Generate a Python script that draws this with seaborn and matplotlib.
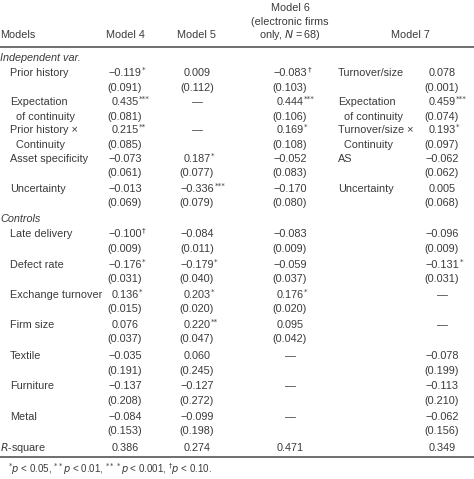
import matplotlib
matplotlib.use("Agg")
import matplotlib.pyplot as plt
import seaborn as sns

sns.set_theme(style="white")
plt.rcParams['font.family'] = ['Liberation Sans', 'DejaVu Sans']

indep_labels = [["Prior history"], ["Expectation", "  of continuity"], ["Prior history \u00d7", "  Continuity"],
                ["Asset specificity"], ["Uncertainty"]]
m7_labels = [["Turnover/size"], ["Expectation", "  of continuity"], ["Turnover/size \u00d7", "  Continuity"],
             ["AS"], ["Uncertainty"]]
control_labels = ["Late delivery", "Defect rate", "Exchange turnover", "Firm size", "Textile", "Furniture", "Metal"]

# (coef, stars, se) per model; None = dash
model4 = [("\u22120.119", "*", "0.091"), ("0.435", "***", "0.081"), ("0.215", "**", "0.085"),
          ("\u22120.073", "", "0.061"), ("\u22120.013", "", "0.069"),
          ("\u22120.100", "\u2020", "0.009"), ("\u22120.176", "*", "0.031"), ("0.136", "*", "0.015"),
          ("0.076", "", "0.037"), ("\u22120.035", "", "0.191"), ("\u22120.137", "", "0.208"),
          ("\u22120.084", "", "0.153")]
model5 = [("0.009", "", "0.112"), None, None, ("0.187", "*", "0.077"), ("\u22120.336", "***", "0.079"),
          ("\u22120.084", "", "0.011"), ("\u22120.179", "*", "0.040"), ("0.203", "*", "0.020"),
          ("0.220", "**", "0.047"), ("0.060", "", "0.245"), ("\u22120.127", "", "0.272"),
          ("\u22120.099", "", "0.198")]
model6 = [("\u22120.083", "\u2020", "0.103"), ("0.444", "***", "0.106"), ("0.169", "*", "0.108"),
          ("\u22120.052", "", "0.083"), ("\u22120.170", "", "0.080"),
          ("\u22120.083", "", "0.009"), ("\u22120.059", "", "0.037"), ("0.176", "*", "0.020"),
          ("0.095", "", "0.042"), None, None, None]
model7 = [("0.078", "", "0.001"), ("0.459", "***", "0.074"), ("0.193", "*", "0.097"),
          ("\u22120.062", "", "0.062"), ("0.005", "", "0.068"),
          ("\u22120.096", "", "0.009"), ("\u22120.131", "*", "0.031"), None, None,
          ("\u22120.078", "", "0.199"), ("\u22120.113", "", "0.210"), ("\u22120.062", "", "0.156")]
r_square = ["0.386", "0.274", "0.471", "0.349"]

fig = plt.figure(figsize=(4.74, 4.79), dpi=100)
ax = fig.add_axes([0, 0, 1, 1])
ax.set_xlim(0, 474)
ax.set_ylim(479, 0)
ax.axis("off")
renderer = fig.canvas.get_renderer()

col = "#3a3a3a"
fs = 7.8
kw = dict(fontsize=fs, color=col, va="center")
col_x = [125, 197, 290, 442]

# header
ax.text(0, 35, "Models", ha="left", **kw)
ax.text(col_x[0], 35, "Model 4", ha="center", **kw)
ax.text(col_x[1], 35, "Model 5", ha="center", **kw)
ax.text(col_x[2], 8, "Model 6", ha="center", **kw)
ax.text(col_x[2], 22, "(electronic firms", ha="center", **kw)
ax.text(col_x[2], 35, "only, $\\it{N}$\u2009=\u200968)", ha="center", **kw)
ax.text(410, 35, "Model 7", ha="center", **kw)
ax.axhline(47, color="#555555", lw=1.2)
ax.axhline(457, color="#555555", lw=1.2)

ax.text(0, 58, "Independent var.", ha="left", style="italic", **kw)
ax.text(0, 219, "Controls", ha="left", style="italic", **kw)

row_y = [73, 102, 130, 159, 189, 234, 265, 295, 325, 356, 386, 417]


def cell(x, y, val):
    if val is None:
        ax.text(x, y, "\u2014", ha="center", **kw)
        return
    coef, star, se = val
    t = ax.text(x, y, coef, ha="center", **kw)
    if star:
        bb = t.get_window_extent(renderer)
        right = ax.transData.inverted().transform((bb.x1, 0))[0]
        ax.text(right + 0.5, y - 3.5, star, ha="left", fontsize=5.2, color=col, va="center",
                family="DejaVu Sans")
    ax.text(x, y + 14.5, "(" + se + ")", ha="center", **kw)


for i, y in enumerate(row_y):
    if i < 5:
        for j, s in enumerate(indep_labels[i]):
            ax.text(10, y + j * 14.5, s, ha="left", **kw)
        for j, s in enumerate(m7_labels[i]):
            ax.text(338, y + j * 14.5, s, ha="left", **kw)
    else:
        ax.text(10, y, control_labels[i - 5], ha="left", **kw)
    for x, m in zip(col_x, [model4, model5, model6, model7]):
        cell(x, y, m[i])

ax.text(0, 448, "$\\it{R}$-square", ha="left", **kw)
for x, v in zip(col_x, r_square):
    ax.text(x, 448, v, ha="center", **kw)

ax.text(8, 469, "$^{*}$$\\it{p}$ < 0.05, $^{**}$$\\it{p}$ < 0.01, $^{***}$$\\it{p}$ < 0.001, $^{\u2020}$$\\it{p}$ < 0.10.",
        ha="left", fontsize=7, color=col, va="center")

fig.savefig("out.png", dpi=100)
